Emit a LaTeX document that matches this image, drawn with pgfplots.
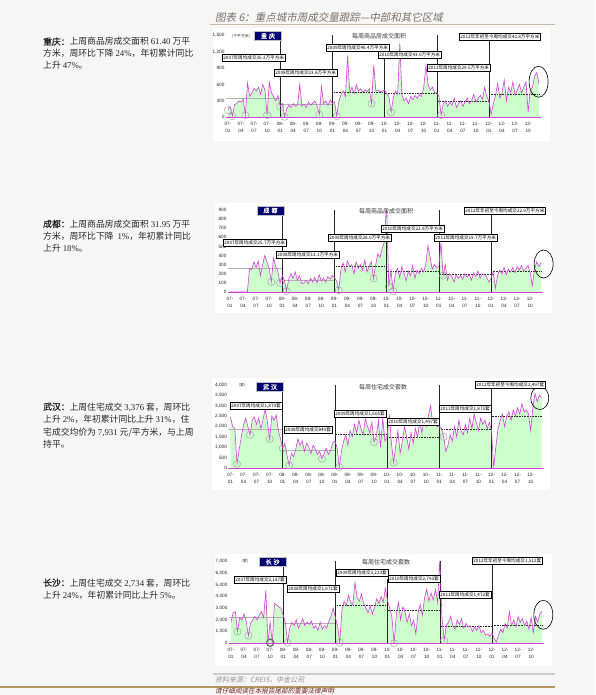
\documentclass[border=0pt]{standalone}
\usepackage{fontspec}
\usepackage{pgfplots}
\usepackage{pgfplotstable}
\pgfplotsset{compat=1.18}
\usetikzlibrary{shadows}
\setmainfont{Liberation Sans}
\newfontfamily\cjk{Noto Sans CJK SC}
\newfontfamily\cjkb[FakeBold=1.2]{Noto Sans CJK SC}
\newfontfamily\cjki[FakeSlant=0.2]{Noto Sans CJK SC}
\newfontfamily\tnr{Liberation Serif}

\definecolor{pagebg}{RGB}{246,246,246}
\definecolor{areag}{RGB}{204,255,204}
\definecolor{mline}{RGB}{218,62,222}
\definecolor{navy}{RGB}{0,0,112}
\definecolor{hdr}{RGB}{125,112,102}
\definecolor{hdrline}{RGB}{200,185,170}
\definecolor{brownline}{RGB}{180,150,100}
\definecolor{legal}{RGB}{110,40,30}

% two values per month, 2007-01 .. 2012-12
\pgfplotstableread{
y
140
200
20
230
250
300
280
330
40
630
380
450
530
480
550
420
600
500
40
640
450
380
300
400
200
250
10
150
220
180
250
200
230
600
200
240
180
280
220
260
300
200
50
560
250
300
220
320
250
280
20
300
420
480
380
1130
450
550
430
600
480
520
460
500
470
520
250
950
480
500
470
480
500
430
380
90
350
480
420
1350
400
300
350
250
380
320
400
350
420
380
550
950
600
500
550
450
450
380
40
250
300
200
280
220
350
180
250
300
200
280
350
250
300
420
280
350
400
330
550
380
300
50
250
400
620
350
450
680
300
550
450
650
400
500
600
450
550
650
100
500
550
760
820
614
}\cqdata

\pgfplotstableread{
y
0
0
0
0
0
0
0
0
0
260
245
330
270
340
180
300
400
330
260
110
370
280
230
100
180
130
10
140
200
150
220
130
180
90
100
130
90
150
110
160
100
190
120
150
110
170
140
180
160
120
20
250
320
220
340
280
300
200
330
260
300
240
350
220
280
330
150
300
420
380
480
550
1000
60
240
10
200
260
160
280
210
120
230
180
290
150
240
200
260
220
300
510
380
250
300
270
280
540
180
300
130
200
170
110
190
150
180
140
200
160
190
130
210
170
230
150
200
190
160
110
150
220
40
180
240
200
270
190
250
220
270
210
280
240
290
230
260
290
210
70
250
330
280
320
}\cddata

\pgfplotstableread{
y
2450
2000
1900
200
900
1500
2100
2400
2000
1600
2300
2450
2100
2400
1900
2350
2850
2200
1400
2500
2300
2550
1800
1400
950
1200
600
130
700
550
900
1400
1100
1300
800
1200
1000
700
1100
900
650
800
450
700
950
650
850
1200
1300
1000
50
800
1300
1600
1100
1800
1500
2100
1700
2300
1900
1600
2400
2000
1700
2200
1250
1500
2300
1000
2400
1300
1500
2600
1200
250
1100
1800
700
1300
2000
1500
900
1700
1200
1900
1500
2200
1700
2400
2000
2500
3000
2100
2300
2000
2000
1900
1500
800
1100
1600
1300
2000
1500
2300
1800
1600
2100
1700
2400
1900
2600
2200
1800
2400
2100
2300
1900
2200
1800
30
1000
1900
2300
2600
2000
2500
2700
2300
2800
2500
2900
2600
3100
2700
2800
2600
1800
2900
3600
3200
3500
3376
}\whdata

\pgfplotstableread{
y
1800
2600
2700
1000
2200
2000
2500
1900
650
1700
2000
2300
2000
2400
2700
2200
4500
100
1800
0
3400
3300
3100
3000
2400
1800
50
1300
1800
1500
2000
1300
1700
2100
1500
1800
1600
1900
1300
1500
1100
1800
1200
1500
1300
1900
2300
3000
2200
1500
50
2800
3600
3200
4100
3500
3300
5200
3900
3600
4200
3400
3000
2600
3200
2500
3100
3800
3400
4000
3500
4700
3600
3000
2200
0
2400
3500
2000
3100
2700
1800
2500
1500
2000
800
2600
3300
2400
3900
4600
3600
4300
3700
4600
3500
7200
2200
250
1500
1800
2300
1500
1200
2000
1600
2100
1300
1700
1400
1500
1000
1400
1100
1500
900
1100
700
800
600
900
400
100
700
1200
900
1700
1300
2700
1500
2000
1400
2300
1800
2100
1500
1900
1200
2200
900
2300
1800
2500
2734
}\csdata

\pgfplotsset{
  cityax/.style={
    scale only axis, width=315.4pt,
    xmin=-0.5, xmax=72, ymin=0,
    axis line style={draw=none},
    major tick length=0pt,
    scaled ticks=false,
    xtick={0,3,...,69},
    xticklabels={{07-\\01},{07-\\04},{07-\\07},{07-\\10},{08-\\01},{08-\\04},{08-\\07},{08-\\10},{09-\\01},{09-\\04},{09-\\07},{09-\\10},{10-\\01},{10-\\04},{10-\\07},{10-\\10},{11-\\01},{11-\\04},{11-\\07},{11-\\10},{12-\\01},{12-\\04},{12-\\07},{12-\\10}},
    xticklabel style={font=\fontsize{4.7}{7}\selectfont, align=center, inner sep=0pt, yshift=-5pt, text=black!85},
    yticklabel style={font=\fontsize{4.7}{5}\selectfont, inner sep=0pt, xshift=-1.2pt, text=black!85},
    clip mode=individual,
    anchor=south west,
  },
  avgdot/.style={black!85, line width=0.6pt, dash pattern=on 0.6pt off 1pt},
  yl/.style={black!85, line width=0.55pt},
  avgsolid/.style={gray!60, line width=0.7pt},
  circ/.style={only marks, mark=o, mark size=3.6pt, gray!75, mark options={line width=0.45pt}},
}

\newcommand\yrs[8]{%
  \addplot[avgsolid] coordinates {(-0.5,#3) (12,#3)};
  \addplot[avgsolid] coordinates {(12,#4) (24,#4)};
  \addplot[avgdot] coordinates {(24,#5) (36,#5)};
  \addplot[avgdot] coordinates {(36,#6) (48,#6)};
  \addplot[avgdot] coordinates {(48,#7) (60,#7)};
  \addplot[avgdot] coordinates {(60,#8) (71.6,#8)};
  \addplot[yl] coordinates {(12,0) (12,#1)};
  \addplot[yl] coordinates {(24,0) (24,#1)};
  \addplot[yl] coordinates {(36,0) (36,#2)};
  \addplot[yl] coordinates {(48,0) (48,#1)};
  \addplot[yl] coordinates {(60,0) (60,#1)};
}

\tikzset{
  annbox/.style={draw=black, line width=0.4pt, fill=white, inner xsep=1.2pt, inner ysep=0.6pt,
    anchor=west, font=\cjk\fontsize{4.6}{5}\selectfont, minimum height=7pt,
    drop shadow={shadow xshift=0.6pt, shadow yshift=-0.6pt, opacity=0.5}},
  citybox/.style={fill=navy, draw=gray!50, line width=0.3pt, minimum width=27pt, minimum height=9pt,
    inner sep=0pt, text=white, font=\cjkb\fontsize{6}{6}\selectfont},
  ctitle/.style={inner sep=0pt, font=\cjk\fontsize{6}{6}\selectfont, text=black!80},
  unit/.style={inner sep=0pt, font=\cjk\fontsize{3.8}{4}\selectfont, text=black!80},
  ltext/.style={anchor=base west, inner sep=0pt, font=\cjk\fontsize{8.8}{10}\selectfont, text=black!85},
}

\begin{document}
\begin{tikzpicture}
\useasboundingbox (0pt,0pt) rectangle (595pt,-695pt);
\clip (0pt,0pt) rectangle (595pt,-695pt);
\fill[pagebg] (0pt,0pt) rectangle (595pt,-695pt);

\begin{scope}[x=1pt,y=-1pt]
  \fill[white] (213,28) rectangle (550,141);
  \fill[white] (215,203) rectangle (552,313);
  \fill[white] (212,378) rectangle (550,490);
  \fill[white] (215,554) rectangle (552,666);
  \node[anchor=west, inner sep=0pt, font=\cjki\fontsize{10.5}{11}\selectfont, text=hdr] at (215,18) {图表 6：重点城市周成交量跟踪—中部和其它区域};
  \draw[hdrline, line width=1pt] (210,25) -- (555,25);
\end{scope}

% ---------------- Chongqing ----------------
\begin{axis}[cityax, at={(225.8pt,-117.3pt)}, height=82pt, ymax=1500,
  ytick={0,300,600,900,1200,1500}, yticklabels={0,300,600,900,{1,200},{1,500}}]
\addplot[fill=areag, draw=none] table[x expr=\coordindex/2, y=y] {\cqdata} \closedcycle;
\yrs{1500}{1140}{352}{238}{464}{430}{295}{428}
\addplot[mline, line width=0.5pt] coordinates {(-0.5,0) (72,0)};
\addplot[mline, line width=0.6pt] table[x expr=\coordindex/2, y=y] {\cqdata};
\addplot[circ] coordinates {(0,130) (1,20) (4,40) (9,40) (12,200) (13,10) (21,50) (25,20) (33,250) (37.5,90) (49,40)};
\draw[line width=0.6pt] (axis cs:71.4,650) ellipse [x radius=9.5pt, y radius=15.5pt];
\end{axis}

% ---------------- Chengdu ----------------
\begin{axis}[cityax, at={(227.8pt,-292pt)}, height=82pt, ymax=900,
  ytick={0,100,200,300,400,500,600,700,800,900}, yticklabels={0,100,200,300,400,500,600,700,800,900}]
\addplot[fill=areag, draw=none] table[x expr=\coordindex/2, y=y] {\cddata} \closedcycle;
\yrs{900}{691}{257}{131}{280}{229}{197}{229}
\addplot[mline, line width=0.5pt] coordinates {(-0.5,0) (72,0)};
\addplot[mline, line width=0.6pt] table[x expr=\coordindex/2, y=y] {\cddata};
\addplot[circ] coordinates {(9.5,110) (11.5,100) (13,10) (25,20) (33,150) (36.5,60) (37.5,10) (49,180)};
\draw[line width=0.6pt] (axis cs:72.1,307) ellipse [x radius=9.5pt, y radius=14pt];
\end{axis}

% ---------------- Wuhan ----------------
\begin{axis}[cityax, at={(228.3pt,-468pt)}, height=83pt, ymax=4000,
  ytick={0,500,1000,1500,2000,2500,3000,3500,4000},
  yticklabels={0,500,{1,000},{1,500},{2,000},{2,500},{3,000},{3,500},{4,000}}]
\addplot[fill=areag, draw=none] table[x expr=\coordindex/2, y=y] {\whdata} \closedcycle;
\yrs{4000}{2217}{1879}{849}{1605}{1497}{1875}{2497}
\addplot[mline, line width=0.5pt] coordinates {(-0.5,0) (72,0)};
\addplot[mline, line width=0.6pt] table[x expr=\coordindex/2, y=y] {\whdata};
\addplot[circ] coordinates {(1.5,200) (4.5,1600) (9,1400) (12,950) (13.5,130) (21,450) (25,50) (33,1250) (37.5,250) (49,1500)};
\draw[line width=0.6pt] (axis cs:71.1,3373) ellipse [x radius=9pt, y radius=11.5pt];
\end{axis}

% ---------------- Changsha ----------------
\begin{axis}[cityax, at={(228.8pt,-643.3pt)}, height=82pt, ymax=7000,
  ytick={0,1000,2000,3000,4000,5000,6000,7000},
  yticklabels={0,{1,000},{2,000},{3,000},{4,000},{5,000},{6,000},{7,000}}]
\addplot[fill=areag, draw=none] table[x expr=\coordindex/2, y=y] {\csdata} \closedcycle;
\yrs{7000}{5489}{2187}{1671}{3223}{2793}{1472}{1512}
\addplot[mline, line width=0.5pt] coordinates {(-0.5,0) (72,0)};
\addplot[mline, line width=0.6pt] table[x expr=\coordindex/2, y=y] {\csdata};
\addplot[circ] coordinates {(1.5,1000) (4,650) (13,50) (25,50) (37.5,0) (49,250)};
\addplot[only marks, mark=o, mark size=3.6pt, black!60, mark options={line width=1.2pt}] coordinates {(9,50)};
\draw[line width=0.6pt] (axis cs:71.8,2433) ellipse [x radius=9.5pt, y radius=14.5pt];
\end{axis}

\begin{scope}[x=1pt,y=-1pt]
  \node[citybox] at (268,36) {重\hspace{2pt}庆};
  \node[unit] at (241,36) {（千平方米）};
  \node[ctitle] at (379,36) {每周商品房成交面积};
  \node[annbox] at (222,58) {2007年周均成交35.2万平方米};
  \node[annbox] at (274,73) {2008年周均成交23.8万平方米};
  \node[annbox] at (326,48) {2009年周均成交46.4万平方米};
  \node[annbox] at (378,55) {2010年周均成交43.0万平方米};
  \node[annbox] at (427,68) {2011年周均成交29.5万平方米};
  \node[annbox] at (459,37) {2012年年初至今周均成交42.8万平方米};

  \node[citybox] at (270.5,210.5) {成\hspace{2pt}都};
  \node[ctitle] at (386,211) {每周商品房成交面积};
  \node[annbox] at (223,243) {2007年周均成交25.7万平方米};
  \node[annbox] at (276,255) {2008年周均成交13.1万平方米};
  \node[annbox] at (328,238) {2009年周均成交28.0万平方米};
  \node[annbox] at (381,229) {2010年周均成交22.9万平方米};
  \node[annbox] at (434,238) {2011年周均成交19.7万平方米};
  \node[annbox] at (464,211) {2012年年初至今周均成交22.9万平方米};

  \node[citybox] at (270,387) {武\hspace{2pt}汉};
  \node[unit] at (242,385) {（套）};
  \node[ctitle] at (383,387) {每周住宅成交套数};
  \node[annbox] at (230,406) {2007年周均成交1,879套};
  \node[annbox] at (284,430) {2008年周均成交849套};
  \node[annbox] at (334,414) {2009年周均成交1,605套};
  \node[annbox] at (387,422) {2010年周均成交1,497套};
  \node[annbox] at (439,409) {2011年周均成交1,875套};
  \node[annbox] at (475,385) {2012年年初至今周均成交2,497套};

  \node[citybox] at (272.5,562) {长\hspace{2pt}沙};
  \node[unit] at (245,561) {（套）};
  \node[ctitle] at (386,562) {每周住宅成交套数};
  \node[annbox] at (234,580) {2007年周均成交2,187套};
  \node[annbox] at (287,589) {2008年周均成交1,671套};
  \node[annbox] at (336,573) {2009年周均成交3,223套};
  \node[annbox] at (388,579) {2010年周均成交2,793套};
  \node[annbox] at (439,595) {2011年周均成交1,472套};
  \node[annbox] at (472,561) {2012年年初至今周均成交1,512套};

  \node[ltext] at (43,45) {{\cjkb 重庆：}上周商品房成交面积 {\tnr 61.40} 万平};
  \node[ltext] at (43,56.8) {方米，周环比下降 {\tnr 24\%}，年初累计同比};
  \node[ltext] at (43,68.6) {上升 {\tnr 47\%}。};

  \node[ltext] at (43,227.3) {{\cjkb 成都：}上周商品房成交面积 {\tnr 31.95} 万平};
  \node[ltext] at (43,239.2) {方米，周环比下降\ \ {\tnr 1\%}，年初累计同比};
  \node[ltext] at (43,251.4) {上升 {\tnr 18\%}。};

  \node[ltext] at (43,410) {{\cjkb 武汉：}上周住宅成交 {\tnr 3,376} 套，周环比};
  \node[ltext] at (43,422.6) {上升 {\tnr 2\%}，年初累计同比上升 {\tnr 31\%}，住};
  \node[ltext] at (43,435.2) {宅成交均价为 {\tnr 7,931} 元/平方米，与上周};
  \node[ltext] at (43,447.8) {持平。};

  \node[ltext] at (43,586) {{\cjkb 长沙：}上周住宅成交 {\tnr 2,734} 套，周环比};
  \node[ltext] at (43,598.5) {上升 {\tnr 24\%}，年初累计同比上升 {\tnr 5\%}。};

  \draw[gray!40, line width=1.2pt] (213,674) -- (555,674);
  \node[anchor=west, inner sep=0pt, font=\cjki\fontsize{7}{8}\selectfont, text=gray!85] at (215,680) {资料来源：CREIS，中金公司};
  \draw[brownline, line width=1.5pt] (0,687) -- (555,687);
  \node[anchor=base west, inner sep=0pt, font=\cjki\fontsize{6.6}{7}\selectfont, text=legal] at (215,693.9) {请仔细阅读在本报告尾部的重要法律声明};
\end{scope}
\end{tikzpicture}
\end{document}
